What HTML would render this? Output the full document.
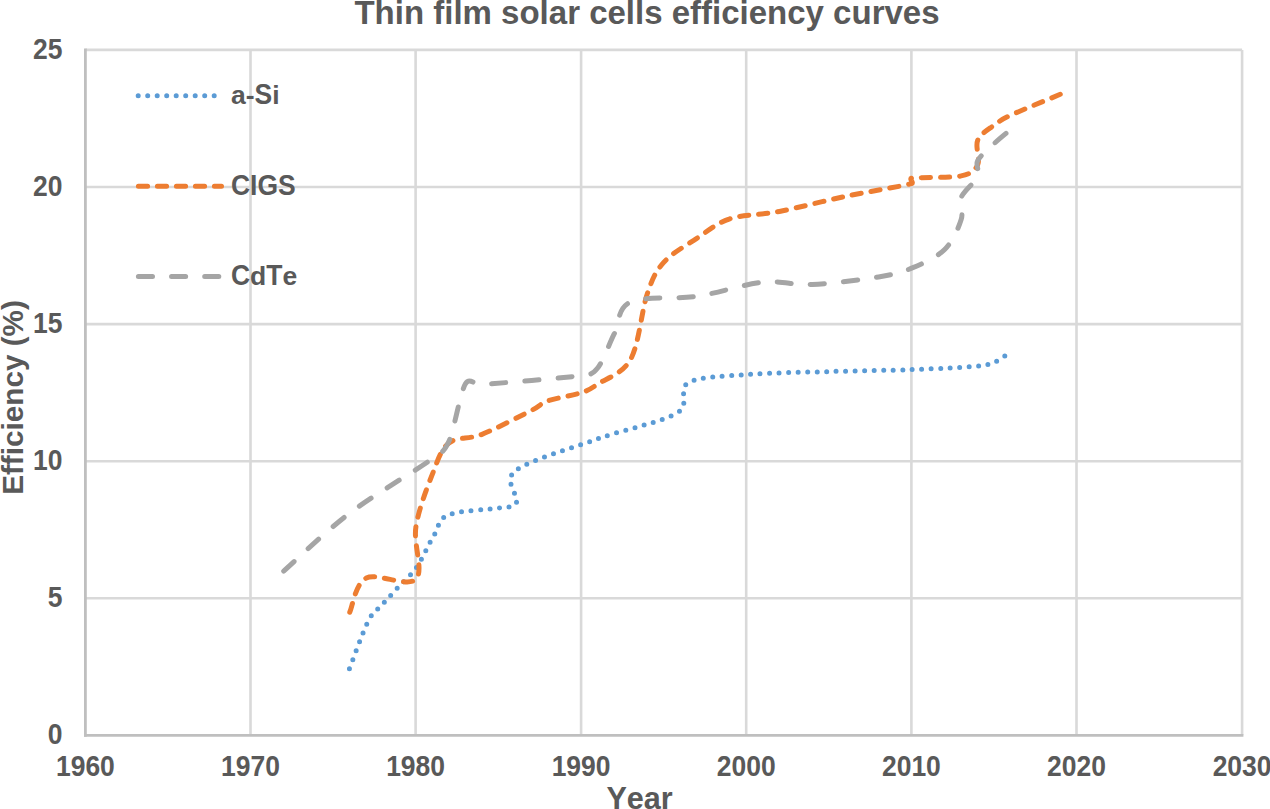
<!DOCTYPE html>
<html><head><meta charset="utf-8">
<style>
html,body{margin:0;padding:0;background:#fff;}
body{width:1270px;height:809px;overflow:hidden;position:relative;}
svg{position:absolute;left:0;top:0;}
text{font-family:"Liberation Sans",sans-serif;font-weight:bold;fill:#595959;font-kerning:none;}
</style></head><body>
<svg width="1270" height="809" viewBox="0 0 1270 809">
<g stroke="#d9d9d9" stroke-width="2.6" fill="none">
<line x1="85.4" y1="49.9" x2="1242.1" y2="49.9"/>
<line x1="85.4" y1="187.0" x2="1242.1" y2="187.0"/>
<line x1="85.4" y1="324.1" x2="1242.1" y2="324.1"/>
<line x1="85.4" y1="461.2" x2="1242.1" y2="461.2"/>
<line x1="85.4" y1="598.3" x2="1242.1" y2="598.3"/>
<line x1="250.5" y1="49.9" x2="250.5" y2="735.3"/>
<line x1="415.6" y1="49.9" x2="415.6" y2="735.3"/>
<line x1="581.1" y1="49.9" x2="581.1" y2="735.3"/>
<line x1="746.2" y1="49.9" x2="746.2" y2="735.3"/>
<line x1="911.4" y1="49.9" x2="911.4" y2="735.3"/>
<line x1="1076.5" y1="49.9" x2="1076.5" y2="735.3"/>
<line x1="1242.1" y1="49.9" x2="1242.1" y2="735.3"/>
</g>
<g stroke="#bfbfbf" stroke-width="2.8" fill="none">
<line x1="85.4" y1="48.6" x2="85.4" y2="736.7"/>
<line x1="84.0" y1="735.3" x2="1243.4" y2="735.3"/>
</g>
<g font-size="26.5" text-anchor="end">
<text transform="translate(62.5,58.8) scale(1,1.085)">25</text>
<text transform="translate(62.5,195.9) scale(1,1.085)">20</text>
<text transform="translate(62.5,333.0) scale(1,1.085)">15</text>
<text transform="translate(62.5,470.1) scale(1,1.085)">10</text>
<text transform="translate(62.5,607.2) scale(1,1.085)">5</text>
<text transform="translate(62.5,744.2) scale(1,1.085)">0</text>
</g>
<g font-size="26.5" text-anchor="middle">
<text transform="translate(85.4,775.5) scale(1,1.085)">1960</text>
<text transform="translate(250.5,775.5) scale(1,1.085)">1970</text>
<text transform="translate(415.6,775.5) scale(1,1.085)">1980</text>
<text transform="translate(581.1,775.5) scale(1,1.085)">1990</text>
<text transform="translate(746.2,775.5) scale(1,1.085)">2000</text>
<text transform="translate(911.4,775.5) scale(1,1.085)">2010</text>
<text transform="translate(1076.5,775.5) scale(1,1.085)">2020</text>
<text transform="translate(1242.1,775.5) scale(1,1.085)">2030</text>
</g>
<text x="647" y="24" font-size="33" text-anchor="middle">Thin film solar cells efficiency curves</text>
<text x="639.6" y="809" font-size="30.6" text-anchor="middle">Year</text>
<text transform="translate(22.8,397.5) rotate(-90)" font-size="29.7" text-anchor="middle">Efficiency (%)</text>
<g font-size="26.5">
<text x="231" y="104.3">a-</text><text transform="translate(254.56,104.3) scale(1,1.085)">S</text><text x="272.23" y="104.3">i</text>
<text transform="translate(231,194.5) scale(1,1.085)">CIGS</text>
<text transform="translate(231,284.6) scale(1,1.085)">C</text><text x="250.11" y="284.6">d</text><text transform="translate(266.28,284.6) scale(1,1.085)">T</text><text x="282.46" y="284.6">e</text>
</g>
<g fill="none" stroke-width="5" stroke-linecap="round">
<line x1="138.2" y1="95.8" x2="218" y2="95.8" stroke="#5b9bd5" stroke-dasharray="0 9.5"/>
<line x1="138.4" y1="186.3" x2="221.5" y2="186.3" stroke="#ed7d31" stroke-dasharray="9.2 9.8"/>
<line x1="138.4" y1="276.4" x2="218.8" y2="276.4" stroke="#a5a5a5" stroke-dasharray="14.1 19.05"/>
</g>
<g id="series" fill="none" stroke-width="5" stroke-linecap="round" stroke-linejoin="round">
<path stroke="#5b9bd5" stroke-dasharray="0 9.5" stroke-dashoffset="-1.5" d="M348.97,670.01 C352.22,661.77 362.98,631.38 368.47,620.56 C373.11,611.41 377.12,610.43 381.90,605.05 C386.69,599.67 391.42,594.56 397.18,588.28 C402.95,582.00 410.37,576.21 416.50,567.38 C422.64,558.55 428.65,544.06 434.00,535.30 C439.34,526.55 437.56,519.42 448.55,514.84 C459.55,510.27 488.64,509.97 499.97,507.85 C508.59,506.24 514.03,508.29 516.55,502.13 C519.07,495.98 502.77,480.53 515.08,470.93 C528.60,460.39 570.60,448.58 597.68,438.87 C624.75,429.17 662.39,422.08 677.54,412.69 C691.19,404.23 676.85,388.90 688.61,382.54 C700.36,376.17 724.70,376.31 748.07,374.48 C771.44,372.66 801.49,372.39 828.83,371.57 C856.17,370.76 887.30,370.50 912.09,369.60 C936.89,368.71 963.88,367.42 977.58,366.21 C986.12,365.45 989.03,364.53 994.28,362.31 C999.53,360.09 1006.61,354.47 1009.07,352.90"/>
<path stroke="#ed7d31" stroke-dasharray="9.25 9.85" d="M349.78,612.18 C352.54,606.49 355.29,583.51 366.31,578.03 C377.32,572.55 407.62,587.79 415.88,579.29 C424.14,570.79 413.13,544.55 415.88,527.02 C418.63,509.50 426.90,488.13 432.40,474.13 C437.91,460.13 440.67,449.63 448.93,443.00 C457.19,436.37 468.21,439.79 481.98,434.35 C495.75,428.92 520.53,415.97 531.55,410.39 C540.06,406.08 539.81,403.80 548.07,400.85 C556.33,397.90 572.86,395.47 581.12,392.68 C589.38,389.90 589.94,389.34 597.64,384.13 C605.91,378.55 622.43,374.21 630.69,359.19 C638.95,344.17 641.71,310.13 647.22,294.00 C652.72,277.87 655.48,271.67 663.74,262.40 C672.00,253.13 685.77,245.65 696.79,238.38 C707.80,231.12 716.07,223.28 729.84,218.79 C743.61,214.29 760.13,215.16 779.41,211.42 C798.69,207.68 823.47,201.00 845.50,196.36 C867.54,191.71 900.58,186.56 911.60,183.54 C914.16,182.83 908.97,178.63 911.60,178.22 C919.86,176.95 950.16,178.14 961.17,175.90 C970.94,173.91 974.94,170.69 977.70,164.76 C980.45,158.82 974.94,146.90 977.70,140.29 C980.45,133.68 988.71,129.30 994.22,125.12 C999.73,120.94 1002.02,119.29 1010.74,115.22 C1021.76,110.08 1052.05,97.78 1060.32,94.29"/>
<path stroke="#a5a5a5" stroke-dasharray="14.15 19.1" d="M283.69,571.02 C294.70,561.37 325.00,531.83 349.78,513.10 C374.57,494.37 415.88,470.60 432.40,458.64 C442.09,451.63 444.09,452.29 448.93,441.35 C454.44,428.88 459.94,393.33 465.45,383.85 C469.60,376.70 473.73,385.03 481.98,384.43 C501.25,383.05 561.84,378.29 581.12,375.56 C590.10,374.29 592.14,374.99 597.64,368.06 C603.15,361.13 608.66,345.00 614.17,333.98 C619.68,322.96 616.92,308.22 630.69,301.93 C644.46,295.64 674.76,299.51 696.79,296.24 C718.82,292.96 743.61,284.24 762.88,282.28 C782.16,280.32 793.18,285.37 812.46,284.48 C831.73,283.59 862.03,279.66 878.55,276.94 C895.08,274.22 900.58,272.75 911.60,268.17 C922.62,263.60 936.39,257.59 944.65,249.49 C952.91,241.38 958.42,228.20 961.17,219.54 C963.93,210.88 958.42,204.68 961.17,197.54 C963.93,190.39 974.94,182.80 977.70,176.66 C980.45,170.53 974.94,166.26 977.70,160.73 C980.45,155.21 988.71,148.72 994.22,143.51 C999.73,138.29 1007.99,131.80 1010.74,129.46"/>
</g>
</svg>
</body></html>
